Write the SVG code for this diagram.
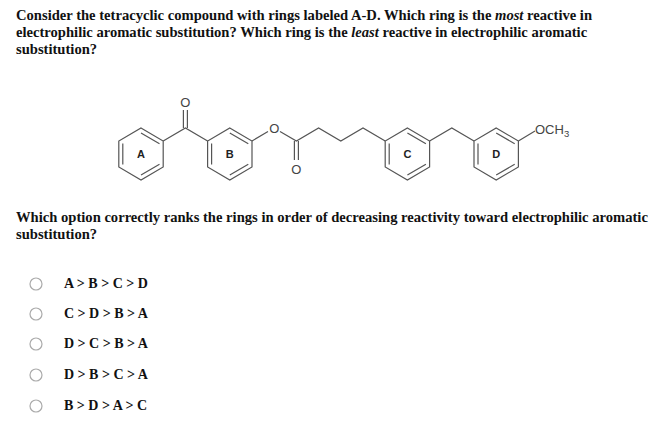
<svg xmlns="http://www.w3.org/2000/svg" width="668" height="428" viewBox="0 0 668 428">
<style>
.q{font-family:"Liberation Serif",serif;font-weight:bold;font-size:14.6px;fill:#111}
.o{font-family:"Liberation Serif",serif;font-weight:bold;font-size:14px;fill:#111}
.b{stroke:#555;stroke-width:1.2;fill:none}
.l{font-family:"Liberation Sans",sans-serif;font-weight:bold;font-size:11px;fill:#222;text-anchor:middle}
.a{font-family:"Liberation Sans",sans-serif;font-size:13px;fill:#444}
.r{fill:#fff;stroke:#aaa;stroke-width:1.2}
</style>
<rect width="668" height="428" fill="#fff"/>
<g id="question1">
<text class="q" x="16" y="20">Consider the tetracyclic compound with rings labeled A-D. Which ring is the <tspan font-style="italic">most</tspan> reactive in</text>
<text class="q" x="16" y="37">electrophilic aromatic substitution? Which ring is the <tspan font-style="italic">least</tspan> reactive in electrophilic aromatic</text>
<text class="q" x="16" y="54">substitution?</text>
</g>
<g id="molecule">
<g id="ringA">
<path class="b" d="M141,128 L163.2,141 L163.2,167 L141,180 L118.8,167 L118.8,141 Z"/>
<path class="b" d="M122.8,143.5 L122.8,164.5 M141,133 L159.5,143.8 M141,175 L159.5,164.2"/>
<text class="l" x="141" y="158">A</text>
</g>
<g id="ringB">
<path class="b" d="M229.8,128 L252,141 L252,167 L229.8,180 L207.6,167 L207.6,141 Z"/>
<path class="b" d="M211.6,143.5 L211.6,164.5 M229.8,133 L248.3,143.8 M229.8,175 L248.3,164.2"/>
<text class="l" x="229.8" y="158">B</text>
</g>
<g id="ringC">
<path class="b" d="M407.4,128 L429.6,141 L429.6,167 L407.4,180 L385.2,167 L385.2,141 Z"/>
<path class="b" d="M389.2,143.5 L389.2,164.5 M407.4,133 L425.9,143.8 M407.4,175 L425.9,164.2"/>
<text class="l" x="407.4" y="158">C</text>
</g>
<g id="ringD">
<path class="b" d="M496.2,128 L518.4,141 L518.4,167 L496.2,180 L474,167 L474,141 Z"/>
<path class="b" d="M478,143.5 L478,164.5 M496.2,133 L514.7,143.8 M496.2,175 L514.7,164.2"/>
<text class="l" x="496.2" y="158">D</text>
</g>
<g id="bonds">
<path class="b" d="M163.2,141 L185.4,128 L207.6,141 M183.4,128 L183.4,110 M187.4,128 L187.4,110"/>
<path class="b" d="M252,141 L268,131.5 M280,131.5 L296.4,141 L318.6,128 L340.8,141 L363,128 L385.2,141"/>
<path class="b" d="M294.4,141 L294.4,160 M298.4,141 L298.4,160"/>
<path class="b" d="M429.6,141 L451.8,128 L474,141 M518.4,141 L535,131"/>
<text class="a" x="185.4" y="107" text-anchor="middle">O</text>
<text class="a" x="274.2" y="133" text-anchor="middle">O</text>
<text class="a" x="296.4" y="174" text-anchor="middle">O</text>
<text class="a" x="535" y="134">OCH<tspan font-size="9.5" dy="3">3</tspan></text>
</g>
</g>
<g id="question2">
<text class="q" x="16" y="222">Which option correctly ranks the rings in order of decreasing reactivity toward electrophilic aromatic</text>
<text class="q" x="16" y="239">substitution?</text>
</g>
<g id="options">
<circle class="r" cx="36" cy="284" r="6"/><text class="o" x="64" y="288">A &gt; B &gt; C &gt; D</text>
<circle class="r" cx="36" cy="314" r="6"/><text class="o" x="64" y="318">C &gt; D &gt; B &gt; A</text>
<circle class="r" cx="36" cy="344" r="6"/><text class="o" x="64" y="348">D &gt; C &gt; B &gt; A</text>
<circle class="r" cx="36" cy="375" r="6"/><text class="o" x="64" y="379">D &gt; B &gt; C &gt; A</text>
<circle class="r" cx="36" cy="406" r="6"/><text class="o" x="64" y="410">B &gt; D &gt; A &gt; C</text>
</g>
</svg>
